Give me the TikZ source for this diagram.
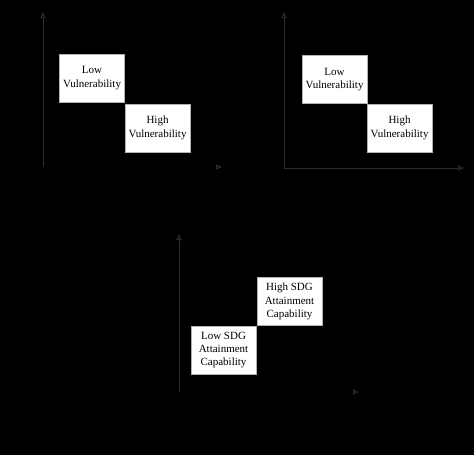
\documentclass[tikz,border=0pt]{standalone}
\usepackage{fontspec}
\setmainfont{Liberation Serif}
\usetikzlibrary{arrows.meta}
\definecolor{axisgray}{HTML}{2E2E2E}
\tikzset{
  box/.style={fill=white, draw=white!70!black, line width=0.5pt, minimum width=65pt, minimum height=48pt,
    inner sep=1pt, align=center, text=black, font=\fontsize{11}{13.3}\selectfont},
  axis/.style={draw=axisgray, line width=1pt, -{Triangle[open, length=6pt, width=5pt, color=axisgray]}},
  faxis/.style={draw=black, line width=1pt, -{Triangle[open, length=6pt, width=5pt, color=axisgray]}},
}
\begin{document}
\begin{tikzpicture}[x=1pt, y=-1pt]
\fill[black] (0,0) rectangle (474,455);
\useasboundingbox (0,0) rectangle (474,455);
% panel 1
\coordinate (o1) at (43,167);
\coordinate (y1) at (43,12);
\coordinate (x1) at (222,167);
\draw[axis] (o1) -- (y1);
\draw[faxis] (o1) -- (x1);
\node[box] (low1) at (92,78) {Low\\Vulnerability};
\node[box] (high1) at (157.5,128) {High\\Vulnerability};
% panel 2
\coordinate (o2) at (284,168);
\coordinate (y2) at (284,12);
\coordinate (x2) at (464,168);
\draw[axis] (o2) -- (y2);
\draw[axis] (o2) -- (x2);
\node[box] (low2) at (334.5,79.5) {Low\\Vulnerability};
\node[box] (high2) at (399.5,128) {High\\Vulnerability};
% panel 3
\coordinate (o3) at (179,392);
\coordinate (y3) at (179,234);
\coordinate (x3) at (359,392);
\draw[axis] (o3) -- (y3);
\draw[faxis] (o3) -- (x3);
\node[box] (high3) at (289.5,301.5) {High SDG\\Attainment\\Capability};
\node[box] (low3) at (223.5,350) {Low SDG\\Attainment\\Capability};
\end{tikzpicture}
\end{document}
